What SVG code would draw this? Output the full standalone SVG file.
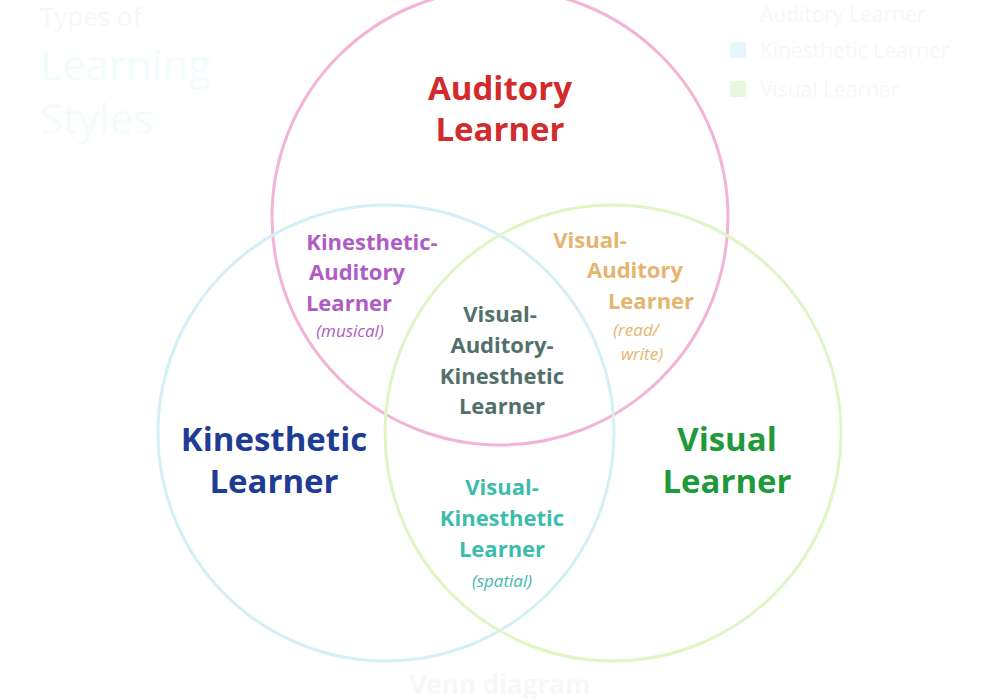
<svg xmlns="http://www.w3.org/2000/svg" width="999" height="699" viewBox="0 0 999 699">
<style>
text{font-family:"Open Sans","Noto Sans","Liberation Sans",sans-serif;font-weight:bold;text-anchor:middle}
.big{font-size:33px}
.mid{font-size:22px}
.it{font-size:17px;font-style:italic;font-weight:normal}
.faint{font-weight:normal;text-anchor:start}
circle{fill:none;stroke-width:3}
</style>
<rect width="999" height="699" fill="#ffffff"/>
<g id="title">
<text class="faint" x="40" y="26" font-size="26" fill="#f7f7f7">Types of</text>
<text class="faint" x="40" y="80" font-size="42" fill="#f3fcfc">Learning</text>
<text class="faint" x="40" y="134" font-size="42" fill="#f3fcfc">Styles</text>
</g>
<g id="legend">
<text class="faint" x="760" y="22" font-size="21" fill="#f7f7f7">Auditory Learner</text>
<rect x="730" y="42" width="16" height="16" fill="#e4f8fc"/>
<text class="faint" x="760" y="58" font-size="21" fill="#f7f7f7">Kinesthetic Learner</text>
<rect x="730" y="81" width="16" height="16" fill="#e8f8dc"/>
<text class="faint" x="760" y="97" font-size="21" fill="#f7f7f7">Visual Learner</text>
</g>
<g id="connectors">
<circle id="c-aud" cx="500" cy="217" r="228" stroke="#f3b3d6"/>
<circle id="c-kin" cx="386" cy="433" r="228" stroke="#d4f0f6"/>
<circle id="c-vis" cx="613" cy="433" r="228" stroke="#def5c4"/>
</g>
<g id="auditory"><text class="big" x="500" y="100" fill="#d12b2b">Auditory</text><text class="big" x="500" y="141" fill="#d12b2b">Learner</text></g>
<g id="kinesthetic"><text class="big" x="274" y="451" fill="#1f3c94">Kinesthetic</text><text class="big" x="274" y="493" fill="#1f3c94">Learner</text></g>
<g id="visual"><text class="big" x="727" y="451" fill="#1f9a3a">Visual</text><text class="big" x="727" y="493" fill="#1f9a3a">Learner</text></g>
<g id="kin-aud"><text class="mid" x="372" y="250" fill="#b05cc4">Kinesthetic-</text><text class="mid" x="357" y="280" fill="#b05cc4">Auditory</text><text class="mid" x="349" y="311" fill="#b05cc4">Learner</text><text class="it" x="350" y="337" fill="#b05cc4">(musical)</text></g>
<g id="vis-aud"><text class="mid" x="590" y="248" fill="#e6b46e">Visual-</text><text class="mid" x="635" y="278" fill="#e6b46e">Auditory</text><text class="mid" x="651" y="309" fill="#e6b46e">Learner</text><text class="it" x="636" y="336" fill="#e6b46e">(read/</text><text class="it" x="642" y="360" fill="#e6b46e">write)</text></g>
<g id="all"><text class="mid" x="500" y="322" fill="#52706a">Visual-</text><text class="mid" x="502" y="353" fill="#52706a">Auditory-</text><text class="mid" x="502" y="384" fill="#52706a">Kinesthetic</text><text class="mid" x="502" y="414" fill="#52706a">Learner</text></g>
<g id="vis-kin"><text class="mid" x="502" y="495" fill="#3cbcac">Visual-</text><text class="mid" x="502" y="526" fill="#3cbcac">Kinesthetic</text><text class="mid" x="502" y="557" fill="#3cbcac">Learner</text><text class="it" x="502" y="587" fill="#3cbcac">(spatial)</text></g>
<g id="caption"><text x="500" y="694" font-size="26" font-weight="normal" fill="#f7f7f7">Venn diagram</text></g>
</svg>
